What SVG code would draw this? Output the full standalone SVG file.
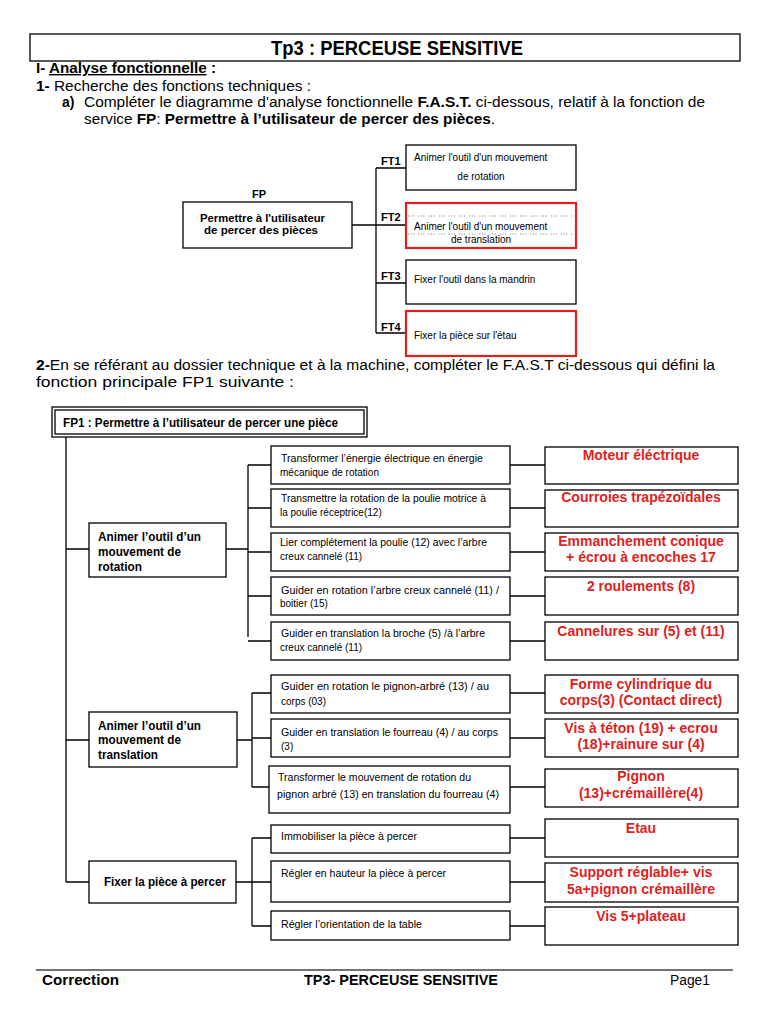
<svg xmlns="http://www.w3.org/2000/svg" width="768" height="1024" viewBox="0 0 768 1024">
<style>
text{font-family:"Liberation Sans",Arial,sans-serif;fill:#000}
.b{font-weight:bold}
.box{fill:#fff;stroke:#000;stroke-width:1.3}
.rbox{fill:#fff;stroke:#e01e1e;stroke-width:2.2}
.ln{stroke:#000;stroke-width:1.3;fill:none}
.t10{font-size:10px}
.t14{font-size:14px}
.lab{font-size:11px;font-weight:bold}
.l2{font-size:12.5px;font-weight:bold}
.red{font-size:14px;font-weight:bold;fill:#e01e1e;text-anchor:middle}
.dot{stroke:#555;stroke-width:0.8;stroke-dasharray:1 1.6 1 1.6 1 4}
</style>
<rect width="768" height="1024" fill="#fff"/>
<g id="header">
<rect x="30" y="34" width="710" height="27" fill="none" stroke="#000" stroke-width="1.3"/>
<text x="271" y="55" class="b" font-size="21" textLength="252" lengthAdjust="spacingAndGlyphs">Tp3 : PERCEUSE SENSITIVE</text>
<text x="36" y="73" class="b t14" textLength="180" lengthAdjust="spacingAndGlyphs">I- <tspan text-decoration="underline">Analyse fonctionnelle</tspan> :</text>
<text x="36" y="91" class="t14" textLength="275" lengthAdjust="spacingAndGlyphs"><tspan class="b">1-</tspan> Recherche des fonctions techniques :</text>
<text x="62" y="107" class="t14 b">a)</text>
<text x="84" y="107" class="t14" textLength="621" lengthAdjust="spacingAndGlyphs">Compléter le diagramme d'analyse fonctionnelle <tspan class="b">F.A.S.T.</tspan> ci-dessous, relatif à la fonction de</text>
<text x="84" y="124" class="t14" textLength="411" lengthAdjust="spacingAndGlyphs">service <tspan class="b">FP</tspan>: <tspan class="b">Permettre à l’utilisateur de percer des pièces</tspan>.</text>
<text x="36" y="370" class="t14" textLength="679" lengthAdjust="spacingAndGlyphs"><tspan class="b">2-</tspan>En se référant au dossier technique et à la machine, compléter le F.A.S.T ci-dessous qui défini la</text>
<text x="36" y="387" class="t14" textLength="258" lengthAdjust="spacingAndGlyphs">fonction principale FP1 suivante :</text>
</g>
<g id="fast1-connectors">
<path class="ln" d="M352 225H376M376 168V333M376 168H406M376 225H406M376 283H406M376 333H406"/>
</g>
<g id="fp">
<text x="259" y="198" class="lab" text-anchor="middle">FP</text>
<rect class="box" x="183" y="202" width="169" height="46"/>
<text x="200" y="222" class="t10 b" textLength="125" lengthAdjust="spacingAndGlyphs">Permettre à l'utilisateur</text>
<text x="204" y="234" class="t10 b" textLength="114" lengthAdjust="spacingAndGlyphs">de percer des pièces</text>
</g>
<g id="ft1">
<text x="381" y="165" class="lab">FT1</text>
<rect class="box" x="406" y="145" width="170" height="45"/>
<text x="414" y="161" class="t10">Animer l'outil d'un mouvement</text>
<text x="481" y="180" class="t10" text-anchor="middle">de rotation</text>
</g>
<g id="ft2">
<text x="381" y="221" class="lab">FT2</text>
<rect class="rbox" x="406" y="203" width="170" height="45"/>
<line class="dot" x1="408" y1="216" x2="572" y2="216"/>
<line class="dot" x1="408" y1="234" x2="572" y2="234"/>
<text x="414" y="230" class="t10">Animer l'outil d'un mouvement</text>
<text x="481" y="243" class="t10" text-anchor="middle">de translation</text>
</g>
<g id="ft3">
<text x="381" y="280" class="lab">FT3</text>
<rect class="box" x="406" y="260" width="170" height="44"/>
<text x="414" y="283" class="t10">Fixer l'outil dans la mandrin</text>
</g>
<g id="ft4">
<text x="381" y="331" class="lab">FT4</text>
<rect class="rbox" x="406" y="311" width="170" height="45"/>
<text x="414" y="339" class="t10">Fixer la pièce sur l'étau</text>
</g>
<g id="connectors">
<path class="ln" d="M66 437V882M66 549H89M66 740H89M66 882H89"/>
<path class="ln" d="M226 549H248M248 465V637M248 465H271M248 508H271M248 552H271M248 596H271M248 641H271"/>
<path class="ln" d="M510 465H545M510 508H545M510 552H545M510 596H545M510 641H545"/>
<path class="ln" d="M237 740H252M252 693V787M252 693H271M252 738H271M252 787H269"/>
<path class="ln" d="M510 693H545M510 738H545M510 787H545"/>
<path class="ln" d="M236 882H252M252 838V926M252 838H271M252 882H271M252 926H271"/>
<path class="ln" d="M510 838H545M510 882H545M510 926H545"/>
</g>
<g id="fp1">
<rect x="52" y="407" width="315" height="30" fill="#fff" stroke="#000" stroke-width="1.3"/>
<rect x="55" y="410" width="309" height="24" fill="none" stroke="#000" stroke-width="1.3"/>
<text x="63" y="427" font-size="12" class="b" textLength="275" lengthAdjust="spacingAndGlyphs">FP1 : Permettre à l’utilisateur de percer une pièce</text>
</g>
<g id="f-rotation">
<rect class="box" x="89" y="523" width="137" height="54"/>
<text x="98" y="541" class="l2" textLength="103" lengthAdjust="spacingAndGlyphs">Animer l’outil d’un</text>
<text x="98" y="556" class="l2" textLength="83" lengthAdjust="spacingAndGlyphs">mouvement de</text>
<text x="98" y="571" class="l2" textLength="44" lengthAdjust="spacingAndGlyphs">rotation</text>
</g>
<g id="f-translation">
<rect class="box" x="89" y="712" width="148" height="55"/>
<text x="98" y="730" class="l2" textLength="103" lengthAdjust="spacingAndGlyphs">Animer l’outil d’un</text>
<text x="98" y="744" class="l2" textLength="83" lengthAdjust="spacingAndGlyphs">mouvement de</text>
<text x="98" y="759" class="l2" textLength="60" lengthAdjust="spacingAndGlyphs">translation</text>
</g>
<g id="f-fixer">
<rect class="box" x="89" y="861" width="147" height="42"/>
<text x="104" y="886" class="l2" textLength="122" lengthAdjust="spacingAndGlyphs">Fixer la pièce à percer</text>
</g>
<g id="r1">
<rect class="box" x="271" y="446" width="239" height="38"/>
<text x="281" y="462" class="t10" textLength="202" lengthAdjust="spacingAndGlyphs">Transformer l’énergie électrique en énergie</text>
<text x="280" y="476" class="t10">mécanique de rotation</text>
<rect class="box" x="545" y="447" width="193" height="37"/>
<text x="641" y="460" class="red">Moteur éléctrique</text>
</g>
<g id="r2">
<rect class="box" x="271" y="489" width="239" height="38"/>
<text x="281" y="502" class="t10" textLength="205" lengthAdjust="spacingAndGlyphs">Transmettre la rotation de la poulie motrice à</text>
<text x="280" y="516" class="t10">la poulie réceptrice(12)</text>
<rect class="box" x="545" y="490" width="193" height="37"/>
<text x="641" y="502" class="red">Courroies trapézoïdales</text>
</g>
<g id="r3">
<rect class="box" x="271" y="533" width="239" height="38"/>
<text x="280" y="546" class="t10" textLength="207" lengthAdjust="spacingAndGlyphs">Lier complétement la poulie (12) avec l’arbre</text>
<text x="280" y="560" class="t10">creux cannelé (11)</text>
<rect class="box" x="545" y="533" width="193" height="38"/>
<text x="641" y="546" class="red">Emmanchement conique</text>
<text x="641" y="562" class="red">+ écrou à encoches 17</text>
</g>
<g id="r4">
<rect class="box" x="271" y="577" width="239" height="38"/>
<text x="281" y="594" class="t10" textLength="218" lengthAdjust="spacingAndGlyphs">Guider en rotation l’arbre creux cannelé (11) /</text>
<text x="280" y="607" class="t10">boitier (15)</text>
<rect class="box" x="545" y="577" width="193" height="38"/>
<text x="641" y="591" class="red">2 roulements (8)</text>
</g>
<g id="r5">
<rect class="box" x="271" y="622" width="239" height="38"/>
<text x="281" y="637" class="t10" textLength="204" lengthAdjust="spacingAndGlyphs">Guider en translation la broche (5) /à l’arbre</text>
<text x="280" y="651" class="t10">creux cannelé (11)</text>
<rect class="box" x="545" y="622" width="193" height="38"/>
<text x="641" y="636" class="red">Cannelures sur (5) et (11)</text>
</g>
<g id="t1">
<rect class="box" x="271" y="675" width="239" height="38"/>
<text x="281" y="690" class="t10" textLength="208" lengthAdjust="spacingAndGlyphs">Guider en rotation le pignon-arbré (13) / au</text>
<text x="281" y="705" class="t10">corps (03)</text>
<rect class="box" x="545" y="675" width="193" height="38"/>
<text x="641" y="689" class="red">Forme cylindrique du</text>
<text x="641" y="705" class="red">corps(3) (Contact direct)</text>
</g>
<g id="t2">
<rect class="box" x="271" y="719" width="239" height="38"/>
<text x="281" y="736" class="t10" textLength="217" lengthAdjust="spacingAndGlyphs">Guider en translation le fourreau (4) / au corps</text>
<text x="281" y="750" class="t10">(3)</text>
<rect class="box" x="545" y="719" width="193" height="38"/>
<text x="641" y="733" class="red">Vis à téton (19) + ecrou</text>
<text x="641" y="749" class="red">(18)+rainure sur (4)</text>
</g>
<g id="t3">
<rect class="box" x="269" y="766" width="241" height="47"/>
<text x="278" y="781" class="t10" textLength="193" lengthAdjust="spacingAndGlyphs">Transformer le mouvement de rotation du</text>
<text x="277" y="798" class="t10" textLength="222" lengthAdjust="spacingAndGlyphs">pignon arbré (13) en translation du fourreau (4)</text>
<rect class="box" x="545" y="769" width="193" height="38"/>
<text x="641" y="781" class="red">Pignon</text>
<text x="641" y="798" class="red">(13)+crémaillère(4)</text>
</g>
<g id="x1">
<rect class="box" x="271" y="825" width="239" height="28"/>
<text x="281" y="840" class="t10" textLength="136" lengthAdjust="spacingAndGlyphs">Immobiliser la pièce à percer</text>
<rect class="box" x="545" y="819" width="193" height="38"/>
<text x="641" y="833" class="red">Etau</text>
</g>
<g id="x2">
<rect class="box" x="271" y="861" width="239" height="41"/>
<text x="281" y="877" class="t10" textLength="165" lengthAdjust="spacingAndGlyphs">Régler en hauteur la pièce à percer</text>
<rect class="box" x="545" y="863" width="193" height="39"/>
<text x="641" y="877" class="red">Support réglable+ vis</text>
<text x="641" y="894" class="red">5a+pignon crémaillère</text>
</g>
<g id="x3">
<rect class="box" x="271" y="911" width="239" height="29"/>
<text x="281" y="928" class="t10" textLength="141" lengthAdjust="spacingAndGlyphs">Régler l’orientation de la table</text>
<rect class="box" x="545" y="907" width="193" height="38"/>
<text x="641" y="921" class="red">Vis 5+plateau</text>
</g>
<g id="footer">
<line x1="36" y1="970" x2="733" y2="970" stroke="#444" stroke-width="1.3"/>
<text x="42" y="985" class="b" font-size="14" textLength="77" lengthAdjust="spacingAndGlyphs">Correction</text>
<text x="304" y="985" class="b" font-size="14" textLength="194" lengthAdjust="spacingAndGlyphs">TP3- PERCEUSE SENSITIVE</text>
<text x="670" y="985" font-size="14" textLength="40" lengthAdjust="spacingAndGlyphs">Page1</text>
</g>
</svg>
